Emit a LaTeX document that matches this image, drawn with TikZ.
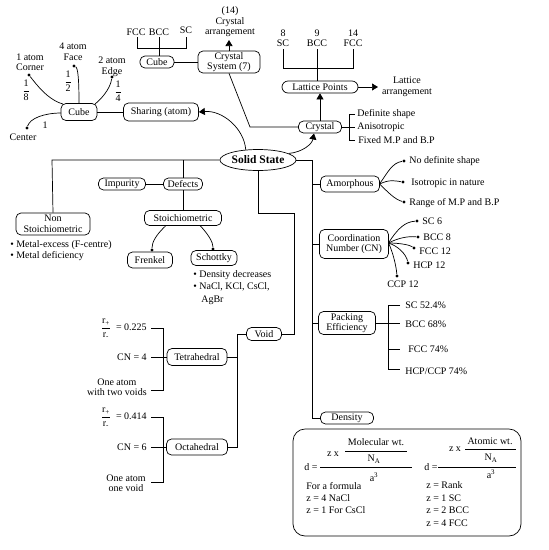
\documentclass[tikz,border=0pt]{standalone}
\usepackage{fontspec}
\setmainfont{Liberation Serif}
\usetikzlibrary{shapes.geometric,arrows.meta}
\newcommand\myfrac[2]{\ensuremath{\displaystyle\frac{\mbox{#1}}{\mbox{#2}}}}
\begin{document}
\begin{tikzpicture}[x=1pt,y=-1pt,line width=0.7pt,
  every node/.style={font=\fontsize{10}{10.5}\selectfont,inner sep=1pt},
  box/.style={draw,rounded corners=5pt,align=center},
  lbl/.style={align=center},
  dotn/.style={circle,fill,inner sep=0pt,minimum size=3.2pt},
  arr/.style={-{Triangle[length=6pt,width=7pt]}}]
\useasboundingbox (0,0) rectangle (549,550);

% ---------- main nodes ----------
\node[box,minimum width=36,minimum height=17] (cubeA) at (79,112) {Cube};
\node[box,minimum width=75,minimum height=18] (sharing) at (161,112) {Sharing (atom)};
\node[box,minimum width=34,minimum height=12] (cubeB) at (157,62) {Cube};
\node[box,minimum width=62,minimum height=22] (csys) at (229,62) {Crystal\\System (7)};
\node[box,minimum width=76,minimum height=12,rounded corners=6pt] (lattice) at (320,87) {Lattice Points};
\node[box,minimum width=43,minimum height=12] (crystal) at (320,127) {Crystal};
\node[draw,ellipse,minimum width=76,minimum height=21,inner sep=0pt,
      font=\bfseries\fontsize{11.5}{12}\selectfont] (ss) at (258,160) {Solid State};
\node[box,minimum width=74,minimum height=22] (nonst) at (53,224) {Non\\Stoichiometric};
\node[box,minimum width=39,minimum height=12] (defects) at (183,184) {Defects};
\node[box,minimum width=47,minimum height=12] (impurity) at (122,184) {Impurity};
\node[box,minimum width=77,minimum height=15] (stoich) at (183,218) {Stoichiometric};
\node[box,minimum width=45,minimum height=16] (frenkel) at (150,260) {Frenkel};
\node[box,minimum width=46,minimum height=15] (schottky) at (214,258) {Schottky};
\node[box,minimum width=35,minimum height=13] (void) at (264,334) {Void};
\node[box,minimum width=60,minimum height=17] (tetra) at (197,357) {Tetrahedral};
\node[box,minimum width=61,minimum height=16] (octa) at (197,447) {Octahedral};
\node[box,minimum width=59,minimum height=16] (amorph) at (350,184) {Amorphous};
\node[box,minimum width=69,minimum height=29] (cn) at (354,244) {Coordination\\Number (CN)};
\node[box,minimum width=57,minimum height=23] (pack) at (347,323) {Packing\\Efficiency};
\node[box,minimum width=53,minimum height=12] (density) at (347,418) {Density};

% ---------- cube (sharing) ----------
\node[lbl] (lcorner) at (30,62) {1 atom\\Corner};
\node[lbl] (lface) at (73,52) {4 atom\\Face};
\node[lbl] (ledge) at (112,67) {2 atom\\Edge};
\node (f8) at (26,90) {\myfrac{1}{8}};
\node (f2) at (68,81) {\myfrac{1}{2}};
\node (f4) at (118,91) {\myfrac{1}{4}};
\node (one) at (45,125) {1};
\node (lcenter) at (23,137) {Center};
\node[dotn] (dcorner) at (29,75) {};
\node[dotn] (dface) at (74,66) {};
\node[dotn] (dedge) at (112,77) {};
\node[dotn] (dcenter) at (27,128) {};
\coordinate (cA1) at (63,104);
\coordinate (cA2) at (79,103.5);
\coordinate (cA3) at (95,104);
\coordinate (cA4) at (61,113);
\draw (dcorner) .. controls (36,84) and (48,100) .. (cA1);
\draw (dface) .. controls (78,68) and (79,80) .. (cA2);
\draw (dedge) .. controls (110,90) and (100,100) .. (cA3);
\draw (cA4) .. controls (45,113) and (30,118) .. (dcenter);
\draw (cubeA) -- (sharing);

% ---------- crystal system ----------
\node (tfcc) at (136,32) {FCC};
\node (tbcc) at (159,32) {BCC};
\node (tsc) at (186,30) {SC};
\draw (137,37) -- (137,48) -- (186,48) -- (186,37);
\draw (159,37) -- (159,56);
\draw (cubeB) -- (csys);
\node[lbl] (l14) at (230,22) {(14)\\Crystal\\arrangement};
\coordinate (csysTip) at (229,40);
\draw[arr] (csys.north) -- (csysTip);
\coordinate (bend1) at (250,127);
\draw (csys.south) -- (bend1) -- (crystal.west);

% ---------- lattice ----------
\node[lbl] (t8) at (283,38) {8\\SC};
\node[lbl] (t9) at (317,38) {9\\BCC};
\node[lbl] (t14) at (353,38) {14\\FCC};
\draw (283,49) -- (283,68) -- (353,68) -- (353,49);
\draw (317,49) -- (317,81);
\draw[arr] (crystal.north) -- (lattice.south);
\coordinate (latTip) at (378,87);
\draw[arr] (lattice.east) -- (latTip);
\node[lbl] (latarr) at (407,87) {Lattice\\arrangement};

% ---------- crystal bracket ----------
\draw (crystal.east) -- (355,127);
\draw (355,114) -- (349,114) -- (349,140) -- (355,140);
\node[anchor=west] (cr1) at (356,114) {Definite shape};
\node[anchor=west] (cr2) at (356,127) {Anisotropic};
\node[anchor=west] (cr3) at (357,140) {Fixed M.P and B.P};

% ---------- solid state arrows ----------
\draw[arr] (ss.140) .. controls (244,128) and (222,110) .. (sharing.east);
\coordinate (crB) at (314,133.5);
\draw[arr] (ss.12) .. controls (303,152) and (312,144) .. (crB);

% ---------- left side ----------
\draw (ss.west) -- (52,160) -- (nonst.north);
\draw (183,160) -- (defects.north);
\draw (impurity) -- (defects);
\draw (defects) -- (stoich);
\node[anchor=west] (nb1) at (9,245) {\textbullet\ Metal-excess (F-centre)};
\node[anchor=west] (nb2) at (9,256) {\textbullet\ Metal deficiency};
\node[dotn] (dfr) at (152,250) {};
\node[dotn] (dsc) at (213,249) {};
\coordinate (st1) at (166,225.5);
\coordinate (st2) at (200,225.5);
\draw (st1) .. controls (156,235) and (152,242) .. (dfr);
\draw (st2) .. controls (208,234) and (213,242) .. (dsc);
\node[anchor=west] (sb1) at (192,275) {\textbullet\ Density decreases};
\node[anchor=west] (sb2) at (192,287) {\textbullet\ NaCl, KCl, CsCl,};
\node[anchor=west] (sb3) at (200,300) {AgBr};

% ---------- void ----------
\draw (ss.south) -- (258,213) -- (294,213) -- (294,334) -- (void.east);
\draw (void.west) -- (237,334) -- (237,447) -- (octa.east);
\draw (237,357) -- (tetra.east);
\draw (tetra.west) -- (163,357);
\draw (151,328) -- (163,328) -- (163,390) -- (151,390);
\draw (151,357) -- (163,357);
\draw (octa.west) -- (163,447);
\draw (151,417) -- (163,417) -- (163,482) -- (151,482);
\draw (151,447) -- (163,447);
\node[anchor=east] (te1) at (148,329) {\myfrac{r\textsubscript{+}}{r\textsubscript{-}}\ \ = 0.225};
\node[anchor=east] (te2) at (148,357) {CN = 4};
\node[anchor=east,lbl] (te3) at (148,387) {One atom\\with two voids};
\node[anchor=east] (oc1) at (148,418) {\myfrac{r\textsubscript{+}}{r\textsubscript{-}}\ \ = 0.414};
\node[anchor=east] (oc2) at (148,447) {CN = 6};
\node[anchor=east,lbl] (oc3) at (147,483) {One atom\\one void};

% ---------- right side ----------
\draw (ss.east) -- (312,160) -- (312,418) -- (density.west);
\draw (312,184) -- (amorph.west);
\draw (312,244) -- (cn.west);
\draw (312,323) -- (pack.west);

% amorphous
\node[dotn] (a1) at (404,161) {};
\node[dotn] (a2) at (403,182) {};
\node[dotn] (a3) at (404,202) {};
\coordinate (am) at (379.5,184);
\draw (am) .. controls (388,172) and (392,163) .. (a1);
\draw (am) .. controls (390,179) and (396,181) .. (a2);
\draw (am) .. controls (388,192) and (394,199) .. (a3);
\node[anchor=west] (at1) at (408,161) {No definite shape};
\node[anchor=west] (at2) at (410,183) {Isotropic in nature};
\node[anchor=west] (at3) at (408,203) {Range of M.P and B.P};

% coordination
\node[dotn] (c1) at (417,221) {};
\node[dotn] (c2) at (418,237) {};
\node[dotn] (c3) at (414,248) {};
\node[dotn] (c4) at (408,263) {};
\node[dotn] (c5) at (397,276) {};
\coordinate (cne) at (388.5,243);
\draw (cne) .. controls (398,228) and (405,222) .. (c1);
\draw (cne) .. controls (398,238) and (408,236) .. (c2);
\draw (cne) .. controls (400,243) and (410,245) .. (c3);
\draw (cne) .. controls (398,246) and (406,254) .. (c4);
\draw (cne) .. controls (392,250) and (396,264) .. (c5);
\node[anchor=west] (ct1) at (421,221) {SC 6};
\node[anchor=west] (ct2) at (422,237) {BCC 8};
\node[anchor=west] (ct3) at (418,251) {FCC 12};
\node[anchor=west] (ct4) at (412,265) {HCP 12};
\node (ct5) at (403,284) {CCP 12};

% packing
\draw (pack.east) -- (400,323);
\draw (400,305) -- (388,305) -- (388,369) -- (400,369);
\draw (388,349) -- (400,349);
\node[anchor=west] (p1) at (404,305) {SC 52.4\%};
\node[anchor=west] (p2) at (404,324) {BCC 68\%};
\node[anchor=west] (p3) at (407,349) {FCC 74\%};
\node[anchor=west] (p4) at (404,371) {HCP/CCP 74\%};

% ---------- density box ----------
\draw[rounded corners=12pt] (293,429) rectangle (521,536);
\node (dl) at (311,467) {d =};
\draw (320,467) -- (412,467);
\node (dlzx) at (333,454) {z x};
\node (dlmw) at (376,442) {Molecular wt.};
\draw (345,451) -- (407,451);
\node (dlna) at (374,459) {N\textsubscript{A}};
\node (dla) at (374,477) {a\textsuperscript{3}};
\node[anchor=west] (dlt1) at (305,486) {For a formula};
\node[anchor=west] (dlt2) at (305,498) {z = 4 NaCl};
\node[anchor=west] (dlt3) at (305,510) {z = 1 For CsCl};
\node (dr) at (431,467) {d =};
\draw (438,467) -- (516,467);
\node (drzx) at (455,449) {z x};
\node (draw) at (490,441) {Atomic wt.};
\draw (465,449) -- (516,449);
\node (drna) at (491,458) {N\textsubscript{A}};
\node (dra) at (491,474) {a\textsuperscript{3}};
\node[anchor=west] (drt1) at (425,485) {z = Rank};
\node[anchor=west] (drt2) at (425,498) {z = 1 SC};
\node[anchor=west] (drt3) at (425,510) {z = 2 BCC};
\node[anchor=west] (drt4) at (425,523) {z = 4 FCC};
\end{tikzpicture}
\end{document}
